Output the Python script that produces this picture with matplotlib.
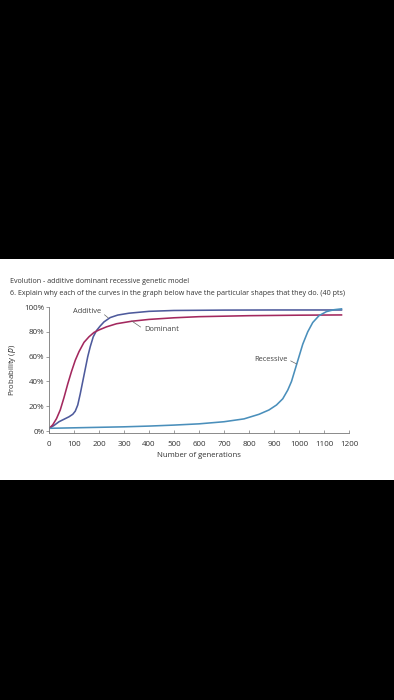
import matplotlib
matplotlib.use("Agg")
import matplotlib.pyplot as plt
from matplotlib.patches import Rectangle

plt.rcParams['font.family'] = ['Open Sans', 'DejaVu Sans']

# values (generations, % probability)
add_x = [0, 20, 40, 60, 80, 95, 105, 115, 125, 135, 145, 155, 165, 177, 190, 204, 220, 245, 275, 320, 400, 500, 700, 900, 1170]
add_y = [2, 4.5, 7.5, 9.5, 11.5, 13.5, 16, 21, 30, 40, 50, 60, 68, 76, 81, 84.5, 88, 91.5, 93.5, 95, 96.5, 97.2, 97.5, 97.6, 97.6]

dom_x = [0, 15, 30, 45, 60, 75, 90, 105, 120, 140, 160, 180, 200, 230, 270, 330, 400, 500, 600, 800, 1000, 1170]
dom_y = [2, 5, 10, 17, 27, 38, 48, 57, 64, 71.5, 76, 79.5, 81.5, 84, 86.5, 88.5, 90, 91.3, 92.2, 93, 93.4, 93.6]

rec_x = [0, 100, 200, 300, 400, 500, 600, 700, 780, 840, 880, 910, 935, 955, 970, 985, 1000, 1015, 1035, 1055, 1080, 1110, 1140, 1170]
rec_y = [2.2, 2.6, 3, 3.4, 4, 4.8, 5.8, 7.5, 9.8, 13.5, 17, 21, 26, 33, 40, 50, 60, 70, 80, 87.5, 93, 96.3, 97.8, 98.5]

xticks = [0, 100, 200, 300, 400, 500, 600, 700, 800, 900, 1000, 1100, 1200]
yticks = [0, 20, 40, 60, 80, 100]

fig = plt.figure(figsize=(3.94, 7.0), dpi=100, facecolor='black')
fig.patches.append(Rectangle((0, 0.3143), 1, 0.3157, transform=fig.transFigure,
                             facecolor='white', edgecolor='none', zorder=-10))

fig.text(0.025, 1 - 282 / 700, 'Evolution - additive dominant recessive genetic model',
         fontsize=5.1, color='#333333', va='center')
fig.text(0.025, 1 - 293.5 / 700,
         '6. Explain why each of the curves in the graph below have the particular shapes that they do. (40 pts)',
         fontsize=5.1, color='#333333', va='center')

ax = fig.add_axes([49 / 394, 1 - 432.9 / 700, 300 / 394, 125.9 / 700])
ax.set_facecolor('none')

ax.plot(add_x, add_y, color='#4e5a9c', lw=1.15)
ax.plot(dom_x, dom_y, color='#a3285e', lw=1.15)
ax.plot(rec_x, rec_y, color='#4a8fbb', lw=1.15)

ax.set_xlim(0, 1200)
ax.set_ylim(-1.5, 100)
for s in ['top', 'right']:
    ax.spines[s].set_visible(False)
for s in ['left', 'bottom']:
    ax.spines[s].set_color('#777777')
    ax.spines[s].set_linewidth(0.6)

ax.set_xticks(xticks)
ax.set_yticks(yticks)
ax.set_yticklabels([f'{v}%' for v in yticks])
ax.tick_params(axis='x', direction='in', length=2.5, width=0.5, colors='#777777',
               labelcolor='#333333', labelsize=5.8, pad=5.5)
ax.tick_params(axis='y', direction='out', length=2.5, width=0.5, colors='#777777',
               labelcolor='#333333', labelsize=5.8, pad=1)

ax.set_xlabel('Number of generations', fontsize=5.6, color='#333333', labelpad=3)
ax.set_ylabel('Probability ($p$)', fontsize=5.6, color='#333333', labelpad=4)

lead = dict(arrowstyle='-', color='#666666', lw=0.5, shrinkA=0.5, shrinkB=0)
ax.annotate('Additive', xy=(237, 91.2), xytext=(96, 96), fontsize=5.4, color='#444444',
            va='center', ha='left', arrowprops=dict(lead, relpos=(1, 0.5)))
ax.annotate('Dominant', xy=(331, 88.7), xytext=(380, 82), fontsize=5.4, color='#444444',
            va='center', ha='left', arrowprops=dict(lead, relpos=(0, 0.5)))
ax.annotate('Recessive', xy=(991, 54), xytext=(953, 58), fontsize=5.4, color='#444444',
            va='center', ha='right', arrowprops=dict(lead, relpos=(1, 0.5)))

fig.savefig('out.png', dpi=100, facecolor='black')
